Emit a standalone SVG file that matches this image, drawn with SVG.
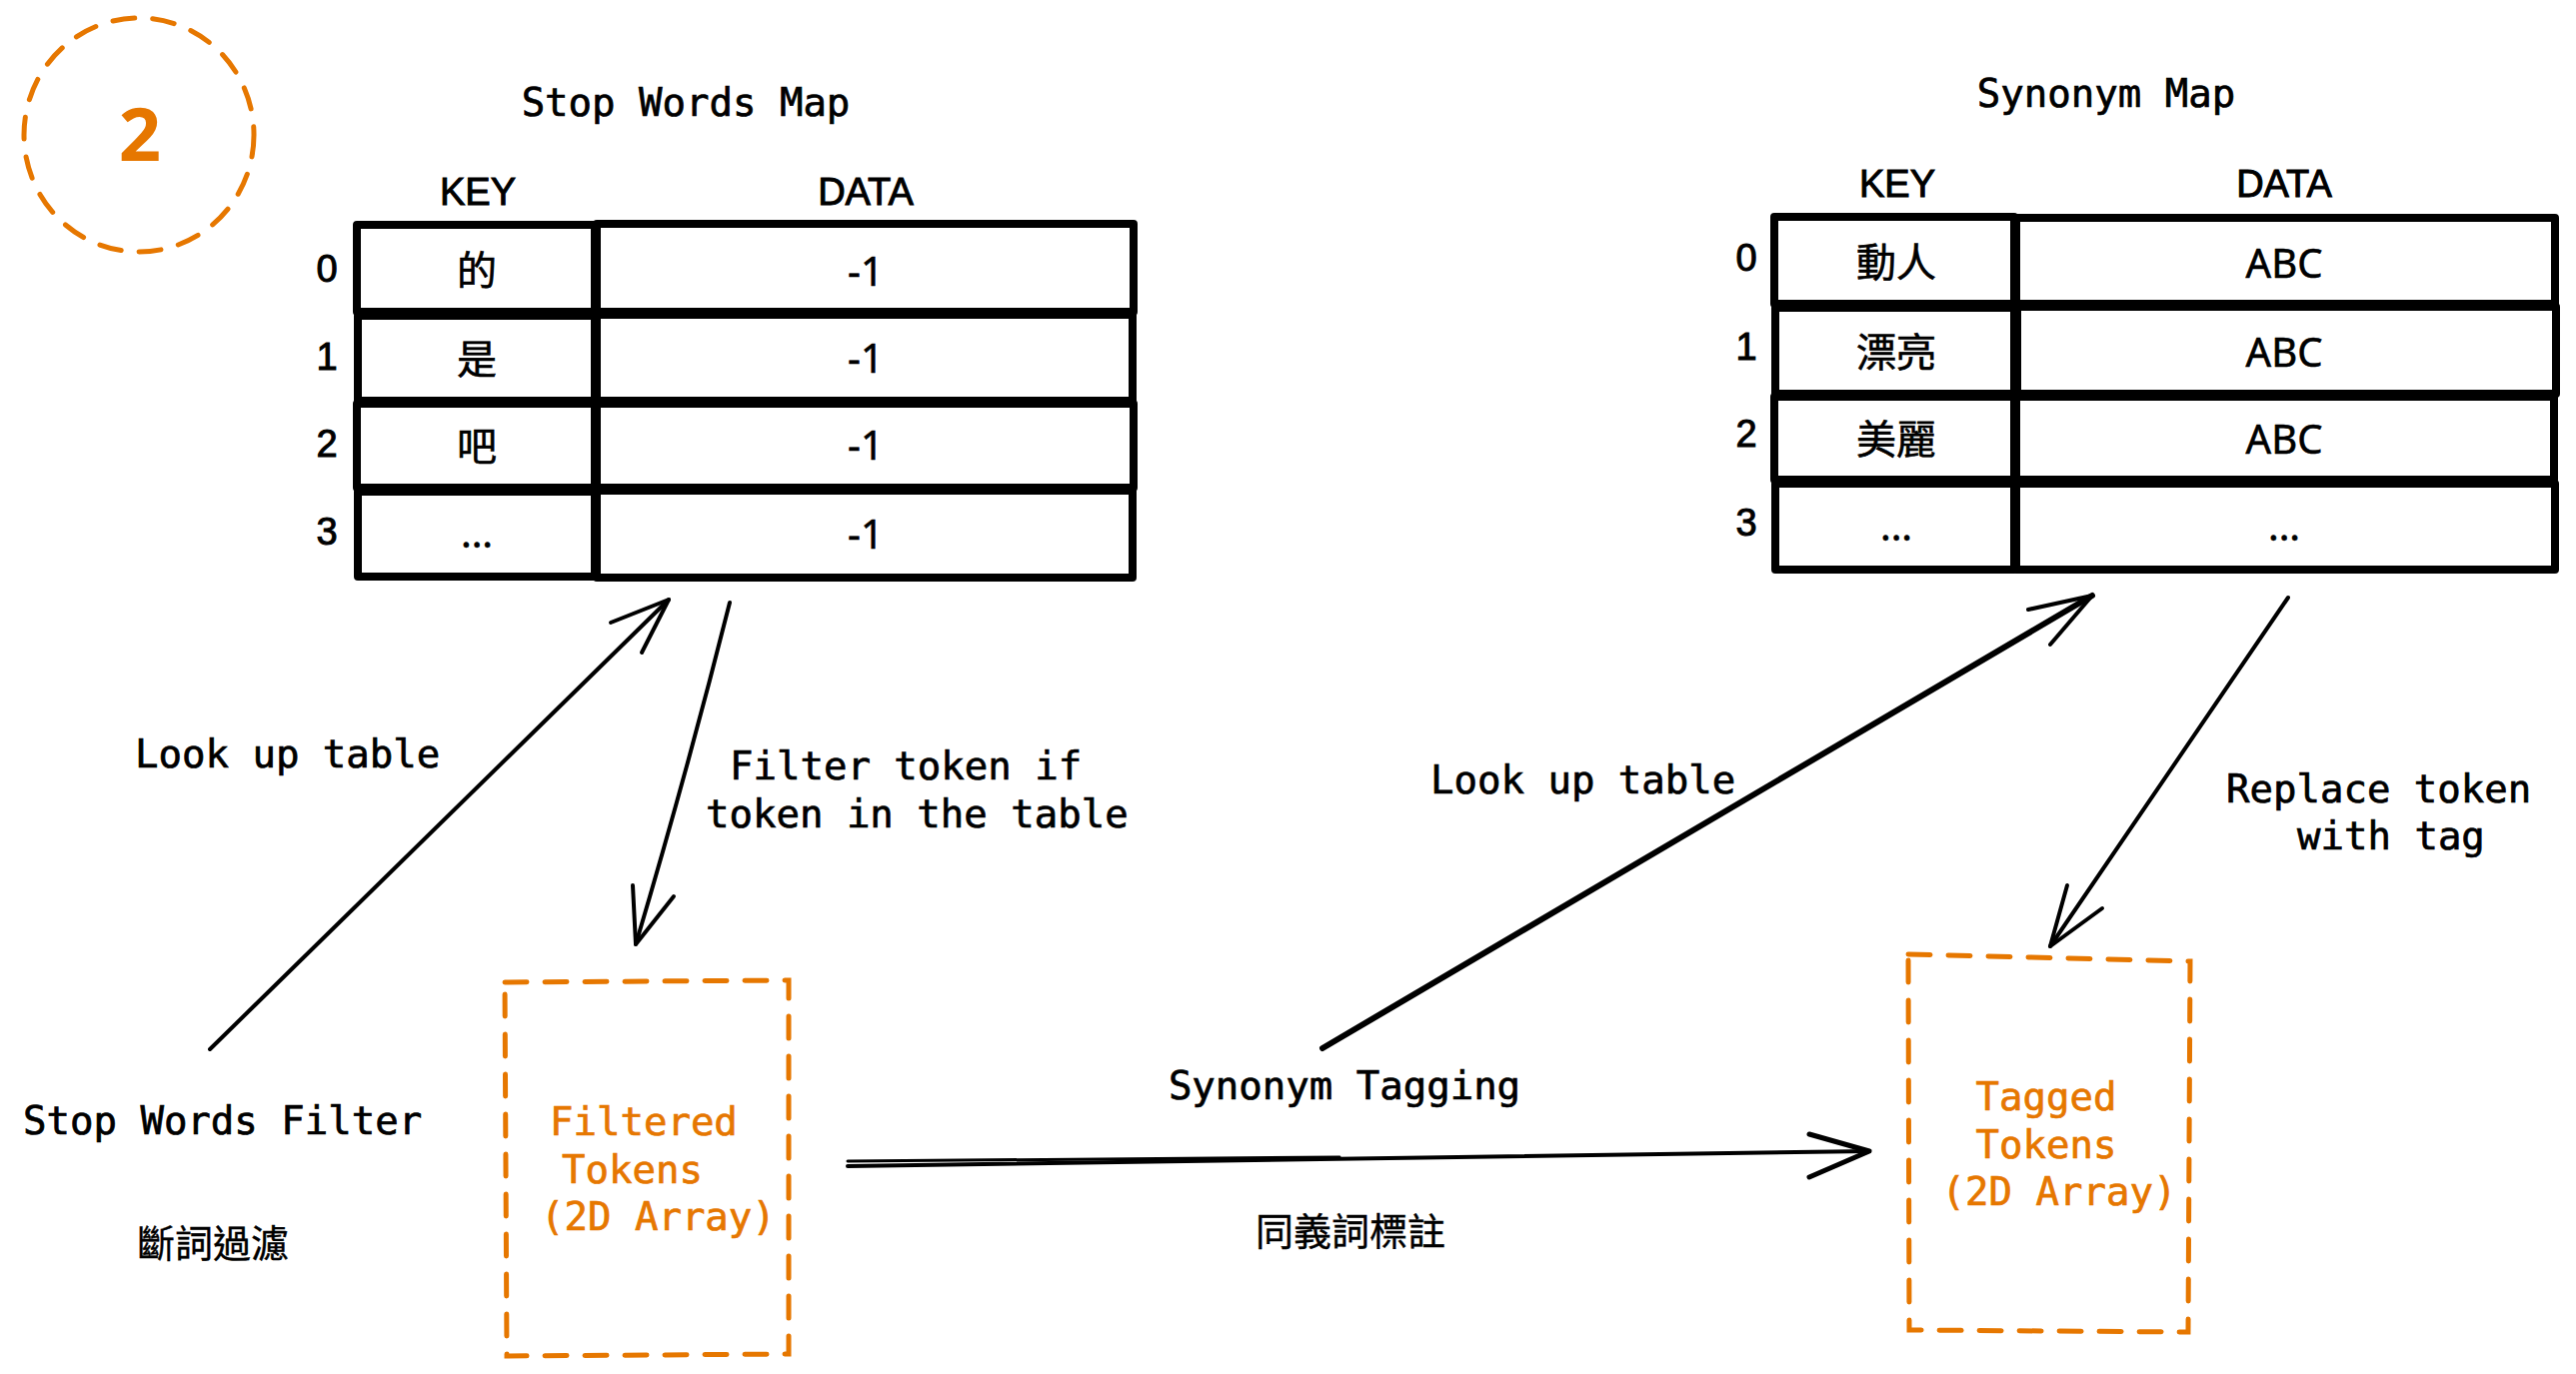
<svg xmlns="http://www.w3.org/2000/svg" width="2577" height="1375" viewBox="0 0 2577 1375">
<style>
.mono{font-family:"DejaVu Sans Mono","Liberation Mono",monospace;font-size:39px;fill:#000;stroke:#000;stroke-width:0.7}
.hand{font-family:"Liberation Sans","Noto Sans",sans-serif;font-size:38px;fill:#000;stroke:#000;stroke-width:1}
.cell{font-family:"Noto Sans","Noto Sans CJK TC",sans-serif;font-size:40px;fill:#000;text-anchor:middle;stroke:#000;stroke-width:0.6}
.cjk{font-family:"Noto Sans CJK TC","Noto Sans",sans-serif;font-size:38px;fill:#000;stroke:#000;stroke-width:0.4}
.orange{font-family:"DejaVu Sans Mono","Liberation Mono",monospace;font-size:39px;fill:#e67700;stroke:#e67700;stroke-width:0.7}
.tbl{fill:none;stroke:#000;stroke-width:8;stroke-linejoin:round;stroke-linecap:round}
.dash{fill:none;stroke:#e67700;stroke-width:5;stroke-dasharray:22 18;stroke-linecap:round}
.conn{fill:none;stroke:#000;stroke-linecap:round;stroke-linejoin:round}
</style>
<rect width="2577" height="1375" fill="#fff"/>

<g id="step-badge">
<ellipse class="dash" cx="139" cy="135" rx="115" ry="117" stroke-width="4"/>
<text x="140" y="161" font-family="Noto Sans, Liberation Sans, sans-serif" font-size="74" font-weight="bold" fill="#e67700" text-anchor="middle">2</text>
</g>

<g id="stop-words-map">
<text class="mono" x="686" y="116" text-anchor="middle">Stop Words Map</text>
<text class="hand" x="478" y="205" text-anchor="middle">KEY</text>
<text class="hand" x="866" y="205" text-anchor="middle">DATA</text>
<rect class="tbl" x="357" y="225" width="238" height="87"/>
<rect class="tbl" x="597" y="224" width="537" height="88"/>
<rect class="tbl" x="358" y="316" width="237" height="85"/>
<rect class="tbl" x="597" y="315" width="536" height="86"/>
<rect class="tbl" x="357" y="404" width="238" height="84"/>
<rect class="tbl" x="597" y="404" width="537" height="84"/>
<rect class="tbl" x="358" y="492" width="237" height="85"/>
<rect class="tbl" x="597" y="491" width="536" height="87"/>
<text class="hand" x="327" y="282" text-anchor="middle">0</text>
<text class="hand" x="327" y="370" text-anchor="middle">1</text>
<text class="hand" x="327" y="457" text-anchor="middle">2</text>
<text class="hand" x="327" y="545" text-anchor="middle">3</text>
<text class="cell" x="477" y="285">的</text>
<text class="cell" x="477" y="374">是</text>
<text class="cell" x="477" y="461">吧</text>
<text class="cell" x="477" y="548">...</text>
<text class="cell" x="866" y="286">-1</text>
<text class="cell" x="866" y="373">-1</text>
<text class="cell" x="866" y="460">-1</text>
<text class="cell" x="866" y="549">-1</text>
</g>

<g id="synonym-map">
<text class="mono" x="2107" y="107" text-anchor="middle">Synonym Map</text>
<text class="hand" x="1898" y="197" text-anchor="middle">KEY</text>
<text class="hand" x="2285" y="197" text-anchor="middle">DATA</text>
<rect class="tbl" x="1775" y="217" width="240" height="87"/>
<rect class="tbl" x="2017" y="218" width="539" height="86"/>
<rect class="tbl" x="1776" y="308" width="239" height="86"/>
<rect class="tbl" x="2018" y="307" width="539" height="87"/>
<rect class="tbl" x="1775" y="397" width="240" height="83"/>
<rect class="tbl" x="2017" y="397" width="538" height="83"/>
<rect class="tbl" x="1776" y="484" width="239" height="86"/>
<rect class="tbl" x="2017" y="484" width="539" height="86"/>
<text class="hand" x="1747" y="271" text-anchor="middle">0</text>
<text class="hand" x="1747" y="360" text-anchor="middle">1</text>
<text class="hand" x="1747" y="447" text-anchor="middle">2</text>
<text class="hand" x="1747" y="536" text-anchor="middle">3</text>
<text class="cell" x="1897" y="277">動人</text>
<text class="cell" x="1897" y="367">漂亮</text>
<text class="cell" x="1897" y="454">美麗</text>
<text class="cell" x="1897" y="541">...</text>
<text class="cell" x="2285" y="278">ABC</text>
<text class="cell" x="2285" y="367">ABC</text>
<text class="cell" x="2285" y="454">ABC</text>
<text class="cell" x="2285" y="541">...</text>
</g>

<g id="stop-words-filter">
<text class="mono" x="23" y="1135">Stop Words Filter</text>
<text class="cjk" x="137" y="1258">斷詞過濾</text>
</g>

<g id="filtered-tokens">
<path class="dash" d="M505,983 L789,981 L789,1355 L507,1357 Z"/>
<text class="orange" x="550" y="1136">Filtered</text>
<text class="orange" x="562" y="1184">Tokens</text>
<text class="orange" x="541" y="1231">(2D Array)</text>
</g>

<g id="synonym-tagging">
<text class="mono" x="1345" y="1100" text-anchor="middle">Synonym Tagging</text>
<text class="cjk" x="1351" y="1246" text-anchor="middle">同義詞標註</text>
</g>

<g id="tagged-tokens">
<path class="dash" d="M1909,955 L2191,962 L2189,1333 L1910,1331 Z"/>
<text class="orange" x="2047" y="1111" text-anchor="middle">Tagged</text>
<text class="orange" x="2047" y="1159" text-anchor="middle">Tokens</text>
<text class="orange" x="2060" y="1206" text-anchor="middle">(2D Array)</text>
</g>

<g id="connectors">
<path class="conn" stroke-width="4" d="M210,1050 L669,600"/>
<path class="conn" stroke-width="4" d="M611,623 L669,600 L642,653"/>
<text class="mono" x="135" y="768">Look up table</text>

<path class="conn" stroke-width="4" d="M730,603 Q688,770 636,945"/>
<path class="conn" stroke-width="4" d="M633,886 L636,945 L674,897"/>
<text class="mono" x="730" y="780">Filter token if</text>
<text class="mono" x="706" y="828">token in the table</text>

<path class="conn" stroke-width="6" d="M1323,1049 L2093,596"/>
<path class="conn" stroke-width="4" d="M2029,610 L2093,596 L2051,645"/>
<text class="mono" x="1431" y="794">Look up table</text>

<path class="conn" stroke-width="4" d="M2289,598 L2051,947"/>
<path class="conn" stroke-width="4" d="M2068,886 L2051,947 L2103,909"/>
<text class="mono" x="2227" y="803">Replace token</text>
<text class="mono" x="2298" y="850">with tag</text>

<path class="conn" stroke-width="4" d="M848,1167 L1870,1152"/>
<path class="conn" stroke-width="3" d="M848,1162 L1340,1158"/>
<path class="conn" stroke-width="5" d="M1810,1135 L1870,1152 L1810,1178"/>
</g>
</svg>
